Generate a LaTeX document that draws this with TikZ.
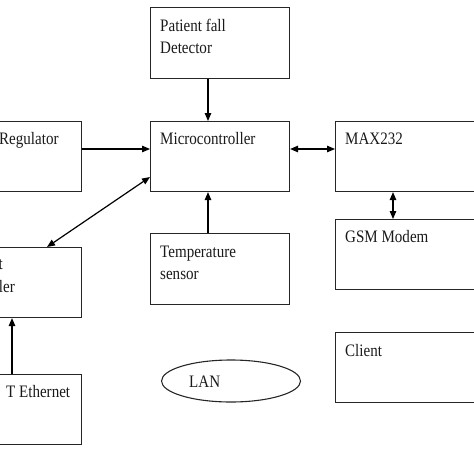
\documentclass[tikz,border=0pt]{standalone}
\usepackage{fontspec}
\setmainfont{Liberation Serif}[FakeStretch=0.86]
\usetikzlibrary{arrows.meta,shapes.geometric}
\begin{document}
\begin{tikzpicture}[x=1pt,y=-1pt,
 box/.style={draw=black!85, line width=1.1pt, rectangle, inner sep=0pt, anchor=north west},
 txt/.style={anchor=base west, inner sep=0pt, text=black!90, font=\fontsize{17.5}{22}\selectfont},
 txte/.style={txt, anchor=base east},
 arr/.style={line width=1.2pt, -{Triangle[length=8pt,width=6.5pt]}},
 darr/.style={line width=1.2pt, {Triangle[length=8pt,width=6.5pt]}-{Triangle[length=8pt,width=6.5pt]}}]
\useasboundingbox (0,0) rectangle (474,474);
\clip (0,0) rectangle (474,474);
% boxes
\node[box, minimum width=139pt, minimum height=71pt] (pfd) at (150,7) {};
\node[box, minimum width=101pt, minimum height=70pt] (reg) at (-20,121) {};
\node[box, minimum width=139pt, minimum height=70pt] (mc) at (150,121) {};
\node[box, minimum width=139pt, minimum height=70pt] (max) at (335,121) {};
\node[box, minimum width=139pt, minimum height=70pt] (gsm) at (335,219) {};
\node[box, minimum width=139pt, minimum height=71pt] (temp) at (150,233) {};
\node[box, minimum width=141pt, minimum height=70pt] (ctl) at (-60,247) {};
\node[box, minimum width=141pt, minimum height=70pt] (eth) at (-60,374) {};
\node[box, minimum width=139pt, minimum height=70pt] (client) at (335,332) {};
\node[draw=black!85, line width=1.1pt, ellipse, inner sep=0pt, minimum width=139pt, minimum height=42pt] (lan) at (231,381) {};
% texts
\node[txt] (t1) at (160,31) {Patient fall};
\node[txt] (t2) at (160,53) {Detector};
\node[txt] (t3) at (160,144) {Microcontroller};
\node[txt] (t4) at (-1,144) {Regulator};
\node[txt] (t5) at (345,144) {MAX232};
\node[txt] (t6) at (345,242) {GSM Modem};
\node[txt] (t7) at (160,257) {Temperature};
\node[txt] (t8) at (160,279) {sensor};
\node[txte] (t9) at (3,269) {t};
\node[txte] (t10) at (15,292) {ller};
\node[txt] (t11) at (6,397) {T Ethernet};
\node[txt] (t12) at (345,356) {Client};
\node[txt] (t13) at (189,387) {LAN};
% connector coordinates
\coordinate (ax) at (208,0);
\coordinate (ay) at (0,149);
\coordinate (bx) at (393,0);
\coordinate (ex) at (12,0);
\coordinate (dA) at (47,0);
\coordinate (dB) at (0,177);
% connectors
\draw[arr] (pfd.south -| ax) -- (mc.north -| ax);
\draw[arr] (reg.east |- ay) -- (mc.west |- ay);
\draw[darr] (mc.east |- ay) -- (max.west |- ay);
\draw[darr] (max.south -| bx) -- (gsm.north -| bx);
\draw[arr] (temp.north -| ax) -- (mc.south -| ax);
\draw[darr] (ctl.north -| dA) -- (mc.west |- dB);
\draw[arr] (eth.north -| ex) -- (ctl.south -| ex);
\end{tikzpicture}
\end{document}
